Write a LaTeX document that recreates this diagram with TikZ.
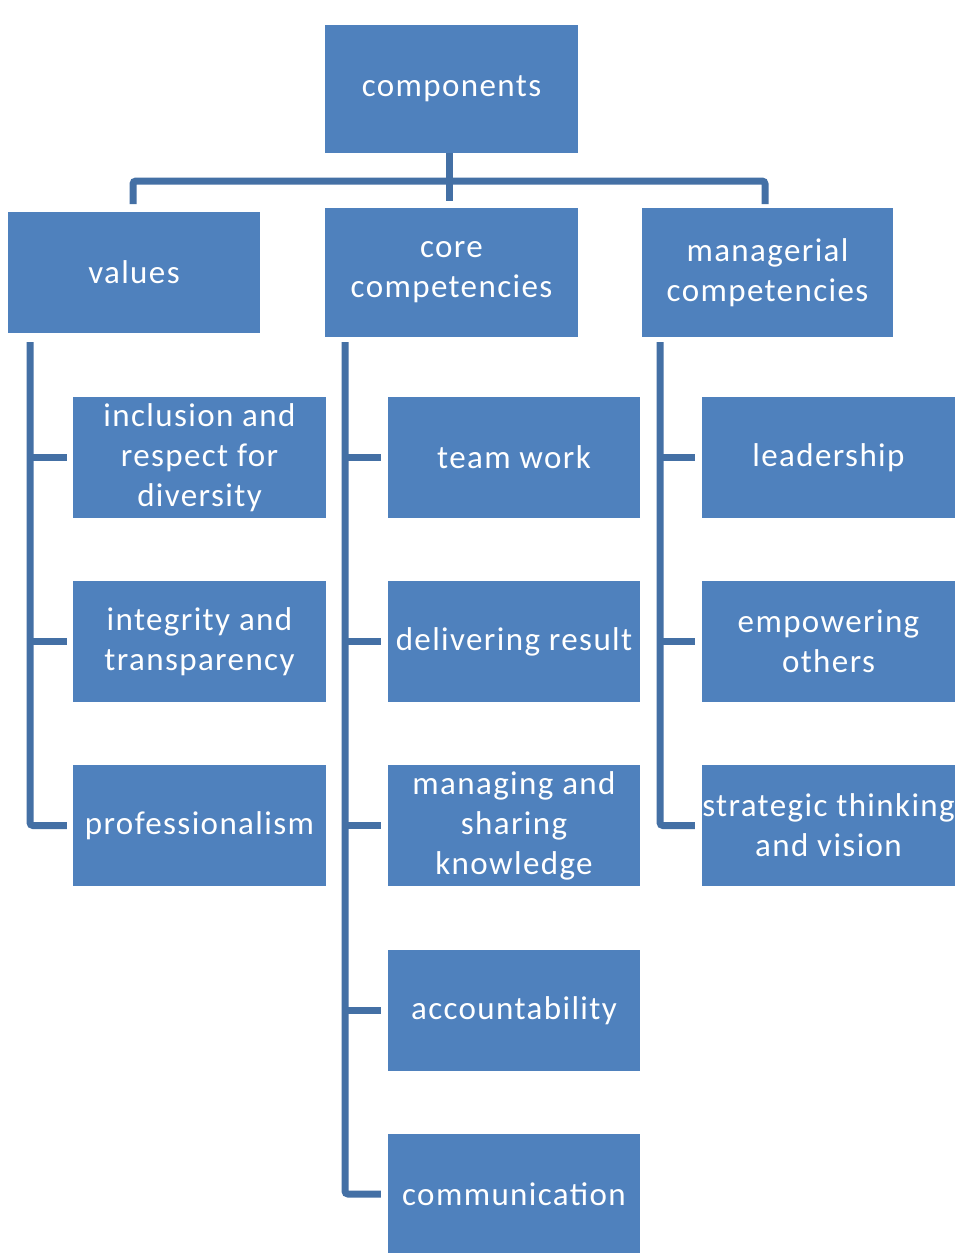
\documentclass[tikz,border=0pt]{standalone}
\usepackage{fontspec}
\setmainfont[LetterSpace=4.2]{Carlito}
\definecolor{boxblue}{RGB}{79,129,189}
\definecolor{lineblue}{RGB}{68,112,165}
\begin{document}
\begin{tikzpicture}[x=1pt,y=-1pt,
  cbox/.style={fill=boxblue,draw=none,text=white,align=center,inner sep=0pt,
    font=\fontsize{33}{40}\selectfont},
  conn/.style={draw=lineblue,line width=7pt,rounded corners=3pt,line cap=butt}]
\useasboundingbox[fill=white] (0,0) rectangle (965,1253);
% level 0 and 1
\node[cbox,minimum width=253pt,minimum height=128pt] (comp) at (451.5,89) {components};
\node[cbox,minimum width=252pt,minimum height=121pt] (val) at (134,272.5) {values};
\node[cbox,minimum width=253pt,minimum height=129pt] (core) at (451.5,272.5) {core\\competencies};
\node[cbox,minimum width=251pt,minimum height=129pt] (man) at (767.5,272.5) {managerial\\competencies};
% values children
\node[cbox,minimum width=253pt,minimum height=121pt] (v1) at (199.5,457.5) {inclusion and\\respect for\\diversity};
\node[cbox,minimum width=253pt,minimum height=121pt] (v2) at (199.5,641.5) {integrity and\\transparency};
\node[cbox,minimum width=253pt,minimum height=121pt] (v3) at (199.5,825.5) {professionalism};
% core children
\node[cbox,minimum width=252pt,minimum height=121pt] (c1) at (514,457.5) {team work};
\node[cbox,minimum width=252pt,minimum height=121pt] (c2) at (514,641.5) {delivering result};
\node[cbox,minimum width=252pt,minimum height=121pt] (c3) at (514,825.5) {managing and\\sharing\\knowledge};
\node[cbox,minimum width=252pt,minimum height=121pt] (c4) at (514,1010.5) {accountability};
\node[cbox,minimum width=252pt,minimum height=121pt] (c5) at (514,1194) {communication};
% managerial children
\node[cbox,minimum width=253pt,minimum height=121pt] (m1) at (828.5,457.5) {leadership};
\node[cbox,minimum width=253pt,minimum height=121pt] (m2) at (828.5,641.5) {empowering\\others};
\node[cbox,minimum width=253pt,minimum height=121pt] (m3) at (828.5,825.5) {strategic thinking\\and vision};
% top connectors
\coordinate (barL) at (133,181);
\coordinate (barR) at (765,181);
\coordinate (stubL) at (133,204);
\coordinate (stubR) at (765,204);
\coordinate (stubM) at (449,201);
\draw[conn] (stubL) -- (barL) -- (barR) -- (stubR);
\draw[conn] (449,153) -- (stubM);
% values spine
\coordinate (vs) at (30,342);
\draw[conn] (vs) |- ([xshift=-6pt]v3.west);
\draw[conn] (30,457.5) -- ([xshift=-6pt]v1.west);
\draw[conn] (30,641.5) -- ([xshift=-6pt]v2.west);
% core spine
\coordinate (cs) at (345,342);
\draw[conn] (cs) |- ([xshift=-7pt]c5.west);
\draw[conn] (345,457.5) -- ([xshift=-7pt]c1.west);
\draw[conn] (345,641.5) -- ([xshift=-7pt]c2.west);
\draw[conn] (345,825.5) -- ([xshift=-7pt]c3.west);
\draw[conn] (345,1010.5) -- ([xshift=-7pt]c4.west);
% managerial spine
\coordinate (ms) at (660,342);
\draw[conn] (ms) |- ([xshift=-7pt]m3.west);
\draw[conn] (660,457.5) -- ([xshift=-7pt]m1.west);
\draw[conn] (660,641.5) -- ([xshift=-7pt]m2.west);
\end{tikzpicture}
\end{document}
